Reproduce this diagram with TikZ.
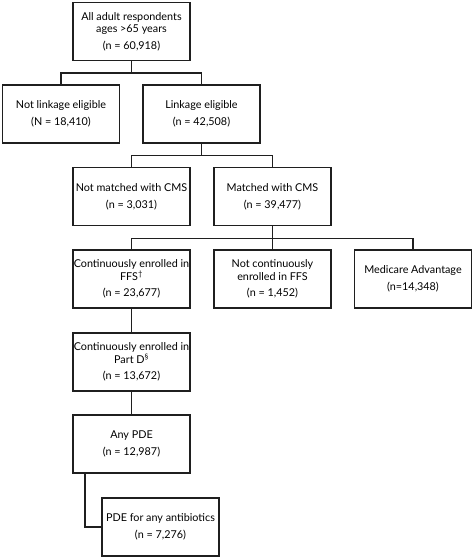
\documentclass[tikz,border=0pt]{standalone}
\usepackage{fontspec}
\setmainfont{Lato}
\begin{document}
\begin{tikzpicture}[x=1pt,y=-1pt,
  box/.style={draw=black!88,line width=1.2pt,rectangle,inner sep=0pt,
    minimum height=58pt,minimum width=117pt,align=center,
    font=\fontsize{10.8}{12.8}\selectfont},
  conn/.style={draw=black!88,line width=1.2pt}]
\useasboundingbox (0,0) rectangle (474,559);
\node[box] (top) at (131.5,31.5) {All adult respondents\\ages >65 years\\[3.5pt](n = 60,918)};
\node[box] (notlink) at (61,114) {Not linkage eligible\\[4.5pt](N = 18,410)};
\node[box] (link) at (201.5,114) {Linkage eligible\\[4.5pt](n = 42,508)};
\node[box] (notmatched) at (131.5,196.5) {Not matched with CMS\\[4.5pt](n = 3,031)};
\node[box] (matched) at (272.5,196.5) {Matched with CMS\\[4.5pt](n = 39,477)};
\node[box] (ffs) at (131.5,279) {Continuously enrolled in\\FFS\textsuperscript{†}\\[4pt](n = 23,677)};
\node[box] (notffs) at (272.5,279) {Not continuously\\enrolled in FFS\\[4pt](n = 1,452)};
\node[box] (ma) at (413,279) {Medicare Advantage\\[4.5pt](n=14,348)};
\node[box] (partd) at (131.5,362) {Continuously enrolled in\\Part D\textsuperscript{§}\\[4pt](n = 13,672)};
\node[box] (pde) at (131.5,444) {Any PDE\\[4.5pt](n = 12,987)};
\node[box] (anti) at (160.5,527) {PDE for any antibiotics\\[4.5pt](n = 7,276)};
\draw[conn] (top.south) -- ++(0,12) coordinate (b1);
\draw[conn] (b1) -| (notlink.north);
\draw[conn] (b1) -| (link.north);
\draw[conn] (link.south) -- ++(0,12) coordinate (b2);
\draw[conn] (b2) -| (notmatched.north);
\draw[conn] (b2) -| (matched.north);
\draw[conn] (matched.south) -- (notffs.north);
\path (matched.south) -- ++(0,12) coordinate (b3);
\draw[conn] (b3) -| (ffs.north);
\draw[conn] (b3) -| (ma.north);
\draw[conn] (ffs.south) -- (partd.north);
\draw[conn] (partd.south) -- (pde.north);
\draw[conn] ([xshift=-46.5pt]pde.south) |- (anti.west);
\end{tikzpicture}
\end{document}
